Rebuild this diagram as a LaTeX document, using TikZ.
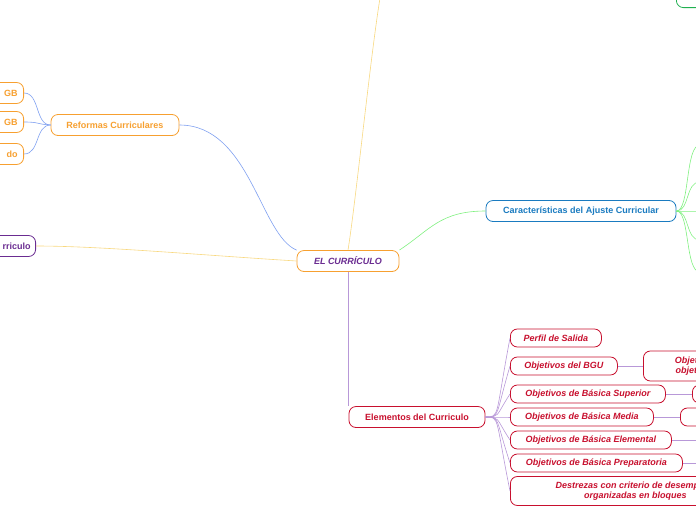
\documentclass[tikz,border=0pt]{standalone}
\usepackage{fontspec}
\setmainfont{Liberation Sans}
\begin{document}
\begin{tikzpicture}[x=1pt,y=-1pt,
  box/.style={draw,rounded corners=7pt,line width=0.8pt,font=\bfseries\fontsize{9}{10.5}\selectfont,inner sep=0pt,minimum height=21pt,fill=white},
  ibox/.style={box,font=\bfseries\itshape\fontsize{9}{10.5}\selectfont},
  cr/.style={ibox,draw=crim,text=crim,anchor=west},
  ln/.style={line width=0.6pt}]
\definecolor{orng}{HTML}{F7A030}
\definecolor{bln}{HTML}{7FA0F0}
\definecolor{purp}{HTML}{6A2C91}
\definecolor{blu}{HTML}{1A7BC0}
\definecolor{crim}{HTML}{C8102E}
\definecolor{grn}{HTML}{80F080}
\definecolor{ylw}{HTML}{F8D880}
\definecolor{plin}{HTML}{B898D8}
\definecolor{dgrn}{HTML}{20B050}
\useasboundingbox (0,0) rectangle (696,520);
\clip (0,0) rectangle (696,520);
\coordinate (top) at (380,-2);
\coordinate (e1) at (700,440);\coordinate (e2) at (700,463);
\node[box,draw=orng,text=purp,font=\bfseries\itshape\fontsize{9}{10.5}\selectfont,minimum width=102pt] (root) at (348,261) {EL CURRÍCULO};
\node[box,draw=orng,text=orng,minimum width=128pt] (ref) at (115,125) {Reformas Curriculares};
\node[box,draw=orng,text=orng,minimum width=90pt,text width=78pt,align=right,anchor=east] (r1) at (24,93) {GB};
\node[box,draw=orng,text=orng,minimum width=90pt,text width=78pt,align=right,anchor=east] (r2) at (24,122) {GB};
\node[box,draw=orng,text=orng,minimum width=90pt,text width=78pt,align=right,anchor=east] (r3) at (24,154) {do};
\node[box,draw=purp,text=purp,minimum width=90pt,text width=80pt,align=right,anchor=east] (cu) at (36,246) {rriculo};
\node[box,draw=blu,text=blu,minimum width=190pt] (aj) at (581,211) {Características del Ajuste Curricular};
\node[box,draw=crim,text=crim,minimum width=136pt] (el) at (417,417) {Elementos del Curriculo};
\node[cr,minimum width=91pt,minimum height=18pt] (c1) at (510,338) {Perfil de Salida};
\node[cr,minimum width=107pt,minimum height=18pt] (c2) at (510,366) {Objetivos del BGU};
\node[cr,minimum width=155pt,minimum height=18pt] (c3) at (510,394) {Objetivos de Básica Superior};
\node[cr,minimum width=143pt,minimum height=18pt] (c4) at (510,417) {Objetivos de Básica Media};
\node[cr,minimum width=161pt,minimum height=18pt] (c5) at (510,440) {Objetivos de Básica Elemental};
\node[cr,minimum width=172pt,minimum height=18pt] (c6) at (510,463) {Objetivos de Básica Preparatoria};
\node[cr,minimum width=250pt,minimum height=29pt,align=center] (c7) at (510,491) {Destrezas con criterio de desempeño\\organizadas en bloques};
\node[cr,minimum width=104pt,minimum height=30pt,align=center] (d2) at (643,366) {Objetivos\\objetivos};
\node[cr,minimum width=60pt,minimum height=18pt] (d3) at (692,394) {O};
\node[cr,minimum width=60pt,minimum height=18pt] (d4) at (680,417) {O};
\node[box,draw=dgrn,minimum width=90pt,minimum height=30pt,anchor=south west] (gt) at (676,8) {};
\draw[ln,bln] (ref.east) .. controls (250,125) and (260,235) .. (root.north west);
\draw[ln,bln] (ref.west) .. controls (35,125) and (40,93) .. (r1.east);
\draw[ln,bln] (ref.west) .. controls (35,124) and (40,122) .. (r2.east);
\draw[ln,bln] (ref.west) .. controls (35,125) and (40,154) .. (r3.east);
\draw[ln,ylw] (root.west) .. controls (200,255) and (100,246) .. (cu.east);
\draw[ln,ylw] (root.north) .. controls (356,200) and (370,60) .. (top);
\draw[ln,grn] (root.north east) .. controls (430,230) and (440,211) .. (aj.west);
\foreach \y in {145,182,211,240,272}{\coordinate (gg) at (700,\y);
  \draw[ln,grn] (aj.east) .. controls (690,211) and (685,\y) .. (gg);}
\draw[ln,plin] (root.south) -- (348,406);
\foreach \c in {c1,c2,c3,c4,c5,c6,c7}{\draw[ln,plin] (el.east) .. controls (500,417) and (495,417) .. (\c.west);}
\draw[ln,plin] (c2.east) -- (d2.west);
\draw[ln,plin] (c3.east) -- (d3.west);
\draw[ln,plin] (c4.east) -- (d4.west);
\draw[ln,plin] (c5.east) -- (e1);
\draw[ln,plin] (c6.east) -- (e2);
\end{tikzpicture}
\end{document}
